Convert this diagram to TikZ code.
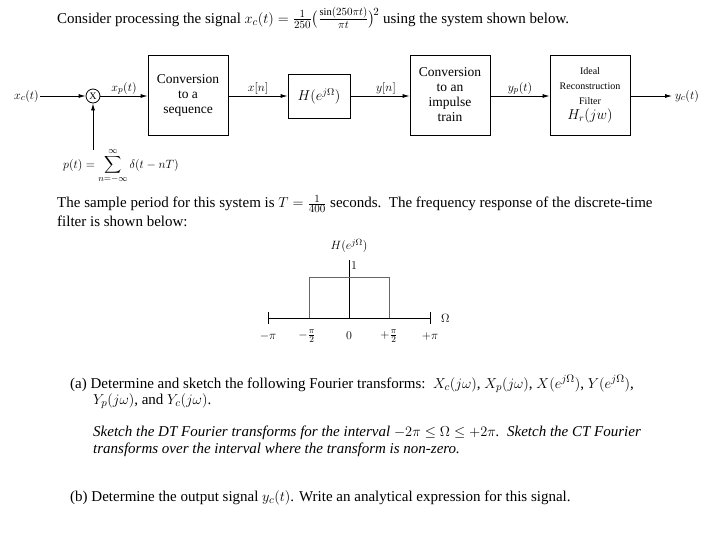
\documentclass[tikz,border=0pt]{standalone}
\usepackage{amsmath}
\usepackage{fontspec}
\setmainfont{Liberation Serif}
\usetikzlibrary{arrows.meta}
\begin{document}
\begin{tikzpicture}[x=1pt,y=-1pt,
  box/.style={draw,line width=0.8pt,inner sep=0pt,align=center},
  sig/.style={line width=0.8pt,-{Latex[length=7pt,width=4pt]}},
  txt/.style={anchor=west,inner sep=0pt,font=\fontsize{15}{18}\selectfont},
  lab/.style={inner sep=1pt,font=\fontsize{13}{15}\selectfont}]
\useasboundingbox (0,0) rectangle (712,539);
\node[txt] (title) at (57,18) {Consider processing the signal $x_c(t)=\frac{1}{250}\bigl(\frac{\sin(250\pi t)}{\pi t}\bigr)^{\!2}$ using the system shown below.};
\coordinate (in) at (40,96);
\node[lab,anchor=east] (xc) at (40,96) {$x_c(t)$};
\node[draw,circle,line width=0.8pt,inner sep=0pt,minimum size=14pt,font=\fontsize{10}{10}\selectfont] (mul) at (93,96) {X};
\node[box,minimum width=80pt,minimum height=80pt,font=\fontsize{13.5}{15}\selectfont] (b1) at (188,95) {Conversion\\to a\\sequence};
\node[box,minimum width=62pt,minimum height=44pt,font=\fontsize{14}{15}\selectfont] (b2) at (319,96) {$H(e^{j\Omega})$};
\node[box,minimum width=80pt,minimum height=80pt,font=\fontsize{13.5}{15}\selectfont] (b3) at (450,95) {Conversion\\to an\\impulse\\train};
\node[box,minimum width=80pt,minimum height=80pt,font=\fontsize{10}{15}\selectfont] (b4) at (590,95) {Ideal\\Reconstruction\\Filter\\{\fontsize{14}{15}\selectfont$H_r(jw)$}};
\coordinate (out) at (672,96);
\node[lab,anchor=west] (yc) at (674,96) {$y_c(t)$};
\coordinate (pt) at (93,150);
\draw[sig] (in) -- (mul);
\draw[sig] (mul) -- node[lab,above] {$x_p(t)$} (b1.west|-mul);
\draw[sig] (b1.east|-mul) -- node[lab,above] {$x[n]$} (b2);
\draw[sig] (b2) -- node[lab,above,pos=0.6] {$y[n]$} (b3.west|-mul);
\draw[sig] (b3.east|-mul) -- node[lab,above] {$y_p(t)$} (b4.west|-mul);
\draw[sig] (b4.east|-mul) -- (out);
\draw[sig] (pt) -- (mul);
\node[lab,anchor=west] (p) at (62,166) {$p(t)=\displaystyle\sum_{n=-\infty}^{\infty}\delta(t-nT)$};
\node[txt] (s1) at (57,204) {The sample period for this system is $T=\frac{1}{400}$ seconds.\ \ The frequency response of the discrete-time};
\node[txt] (s2) at (57,221) {filter is shown below:};
% plot
\coordinate (l) at (268,318); \coordinate (r) at (430,318);
\draw[line width=0.6pt] (l) -- (r);
\draw[line width=0.6pt] (268,312) -- (268,324) (430,312) -- (430,324);
\draw[line width=0.6pt] (349,318) -- (349,260);
\draw[line width=0.8pt,gray!80!black] (309,318) -- (309,277) -- (389,277) -- (389,318);
\node[lab] (hl) at (349,246) {$H(e^{j\Omega})$};
\node[lab,anchor=west] (one) at (350,266) {$1$};
\node[lab,anchor=west] (om) at (440,318) {$\Omega$};
\node[lab] (t1) at (268,336) {$-\pi$};
\node[lab] (t2) at (307,336) {$-\frac{\pi}{2}$};
\node[lab] (t3) at (349,336) {$0$};
\node[lab] (t4) at (389,336) {$+\frac{\pi}{2}$};
\node[lab] (t5) at (430,336) {$+\pi$};
\node[txt] (a1) at (70,384) {(a) Determine and sketch the following Fourier transforms:\ \ $X_c(j\omega)$,\ $X_p(j\omega)$,\ $X(e^{j\Omega})$,\ $Y(e^{j\Omega})$,};
\node[txt] (a2) at (93,401) {$Y_p(j\omega)$, and $Y_c(j\omega)$.};
\node[txt] (a3) at (93,433) {\itshape Sketch the DT Fourier transforms for the interval $-2\pi\le\Omega\le+2\pi$.\ \ Sketch the CT Fourier};
\node[txt] (a4) at (93,450) {\itshape transforms over the interval where the transform is non-zero.};
\node[txt] (b) at (70,498) {(b) Determine the output signal $y_c(t)$. Write an analytical expression for this signal.};
\end{tikzpicture}
\end{document}
